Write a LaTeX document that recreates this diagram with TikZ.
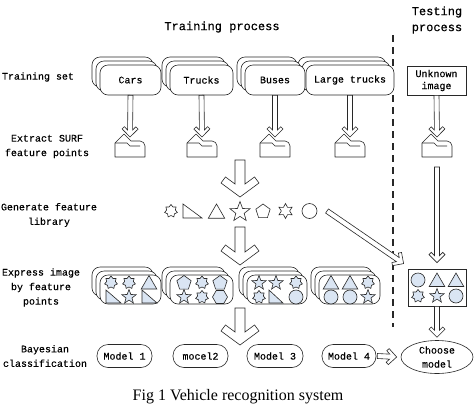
\documentclass[tikz,border=0pt]{standalone}
\usepackage{fontspec}
\setmainfont{Liberation Serif}
\newfontfamily\simfont[FakeBold=0.3]{Liberation Mono}
\usetikzlibrary{shapes.geometric,shadows,calc}
\definecolor{lb}{RGB}{218,229,243}
\definecolor{ln}{RGB}{40,40,40}
\tikzset{
  lab/.style={font=\simfont\fontsize{10}{14.5}\selectfont, align=center, inner sep=0},
  ttl/.style={font=\simfont\fontsize{12}{16}\selectfont, align=center, inner sep=0},
  layers/.style={
    general shadow={shadow xshift=-8pt,shadow yshift=8pt,draw=ln,fill=white,line width=0.6pt},
    general shadow={shadow xshift=-4pt,shadow yshift=4pt,draw=ln,fill=white,line width=0.6pt}},
  tbox/.style={layers, draw=ln, fill=white, rounded corners=8pt, minimum height=30pt, inner sep=0,
    font=\simfont\fontsize{10}{12}\selectfont},
  ebox/.style={layers, draw=ln, fill=white, rounded corners=8pt, minimum height=29pt, inner sep=0},
  rbox/.style={draw=ln, fill=white, minimum width=59pt, minimum height=29pt, inner sep=0, line width=0.8pt,
    align=center, font=\simfont\fontsize{10}{12}\selectfont},
  mbox/.style={draw=ln, fill=white, rounded corners=11pt, minimum height=23pt, inner sep=0,
    font=\simfont\fontsize{10}{12}\selectfont},
  cmodel/.style={ellipse, draw=ln, fill=white, minimum width=72pt, minimum height=33pt, inner sep=0,
    align=center, font=\simfont\fontsize{10}{14}\selectfont},
  shp/.style={draw=ln, inner sep=0, outer sep=0, line width=0.6pt},
  gear/.style={shp, star, star points=7, star point ratio=1.45, minimum size=13pt},
  fstar/.style={shp, star, star points=5, star point ratio=2.4, minimum size=15pt},
  six/.style={shp, star, star points=6, star point ratio=1.8, minimum size=15pt},
  pent/.style={shp, regular polygon, regular polygon sides=5, minimum size=15pt},
  hexa/.style={shp, regular polygon, regular polygon sides=6, minimum size=15pt},
  tri/.style={shp, regular polygon, regular polygon sides=3, minimum size=18pt},
  circ/.style={shp, circle, minimum size=14pt},
  ef/.style={fill=lb},
  hollowarrow/.style n args={6}{draw=ln, fill=white, line width=0.6pt, line join=miter,
    to path={
      ($(\tikztostart)!#1!90:(\tikztotarget)$) --
      ($ ($(\tikztotarget)!#6!(\tikztostart)$) !#1! -90:(\tikztostart) $) --
      ($ ($(\tikztotarget)!#4!(\tikztostart)$) !#5! -90:(\tikztostart) $) --
      ($ ($(\tikztotarget)!#2!(\tikztostart)$) !#3! -90:(\tikztostart) $) --
      (\tikztotarget) --
      ($ ($(\tikztotarget)!#2!(\tikztostart)$) !#3! 90:(\tikztostart) $) --
      ($ ($(\tikztotarget)!#4!(\tikztostart)$) !#5! 90:(\tikztostart) $) --
      ($ ($(\tikztotarget)!#6!(\tikztostart)$) !#1! 90:(\tikztostart) $) --
      ($(\tikztostart)!#1!-90:(\tikztotarget)$) -- cycle}},
  sarrow/.style={hollowarrow={2.5pt}{8pt}{8pt}{10.26pt}{5.74pt}{7.02pt}},
  barrow/.style={hollowarrow={5pt}{14pt}{19pt}{20.04pt}{14.55pt}{13pt}},
  pics/surf/.style={code={
    \draw[draw=ln, fill=white, line width=0.6pt, line join=round]
      (-15,12) -- (-15,-2) -- (-6,-11) -- (1,-4) -- (10,-4) to[out=0,in=90] (15,1) -- (15,12) -- cycle;
    \draw[draw=ln, line width=0.6pt] (-15,-2) -- (-3,-2) -- (0,1) -- (10,1);
    \coordinate (-top) at (0,-8);
    \coordinate (-bot) at (0,12);
  }}
}
\begin{document}
\begin{tikzpicture}[x=1pt,y=-1pt,line width=0.6pt]
\useasboundingbox (0,0) rectangle (474,405);
\clip (0,0) rectangle (474,405);
\fill[white] (0,0) rectangle (474,405);

% titles
\node[ttl] (ttrain) at (222,27) {Training process};
\node[ttl] (ttest) at (437,20) {Testing\\process};

% row labels
\node[lab] (l1) at (38,77) {Training set};
\node[lab] (l2) at (47,146.5) {Extract SURF\\feature points};
\node[lab] (l3) at (49,215) {Generate feature\\library};
\node[lab] (l4) at (41,287.5) {Express image\\by feature\\points};
\node[lab] (l5) at (45,356) {Bayesian\\classification};

% separator
\coordinate (sepa) at (393,35);
\coordinate (sepb) at (393,327);
\draw[ln, line width=1.3pt, dash pattern=on 7pt off 5pt] (sepa) -- (sepb);

% training set
\node[tbox, minimum width=61pt] (cars) at (130.5,80) {Cars};
\node[tbox, minimum width=63pt] (trucks) at (201.5,80) {Trucks};
\node[tbox, minimum width=88pt] (ltrucks) at (350,80) {Large trucks};
\node[tbox, minimum width=60pt] (buses) at (275,80) {Buses};
\node[rbox] (unk) at (436.5,80.5) {Unknown\\image};

% SURF feature point icons
\pic (s1) at (130,145) {surf};
\pic (s2) at (202,145) {surf};
\pic (s3) at (275,145) {surf};
\pic (s4) at (350,145) {surf};
\pic (s5) at (437,145) {surf};

\draw[sarrow] (cars.south) to (s1-top);
\draw[sarrow] (trucks.south) to (s2-top);
\draw[sarrow] (buses.south) to (s3-top);
\draw[sarrow] (ltrucks.south) to (s4-top);
\draw[sarrow] (unk.south) to (s5-top);

% feature library
\node[gear] (f1) at (171,211) {};
\draw[shp] (183,204) -- (183,218) -- (202,218) -- cycle;
\node[tri, minimum size=19pt] (f3) at (216.5,213.5) {};
\node[fstar, minimum size=21pt] (f4) at (240,212) {};
\node[pent] (f5) at (263,211.5) {};
\node[six] (f6) at (285.5,211) {};
\node[circ, minimum size=15pt] (f7) at (309.5,211) {};

% big arrows
\coordinate (b1s) at (240,160); \coordinate (b1t) at (240,197);
\coordinate (b2s) at (240,227); \coordinate (b2t) at (240,265);
\coordinate (b3s) at (240,308); \coordinate (b3t) at (240,345);
\draw[barrow] (b1s) to (b1t);

% expressed images
\node[ebox, minimum width=61pt] (e1) at (130.5,289.5) {};
\node[ebox, minimum width=63pt] (e2) at (201.5,289.5) {};
\node[ebox, minimum width=60pt] (e3) at (277,289.5) {};
\node[ebox, minimum width=61pt] (e4) at (349.5,289.5) {};
\draw[barrow] (b2s) to (b2t);

% box 1
\node[gear, ef] (e1a) at (111,282.5) {};
\node[gear, ef] (e1b) at (129,282.5) {};
\node[tri, ef] (e1c) at (149,284.5) {};
\draw[shp, ef] (106,290) -- (106,303) -- (121,303) -- cycle;
\node[fstar, ef] (e1e) at (129,297) {};
\draw[shp, ef] (142,290) -- (142,303) -- (157,303) -- cycle;
% box 2
\node[pent, ef] (e2a) at (184,283) {};
\node[gear, ef] (e2b) at (202,282.5) {};
\node[pent, ef] (e2c) at (220,283) {};
\node[fstar, ef] (e2d) at (184,297) {};
\node[gear, ef] (e2e) at (202,297) {};
\node[hexa, ef] (e2f) at (220,297) {};
% box 3
\node[fstar, ef] (e3a) at (259,283) {};
\node[fstar, ef] (e3b) at (276,283) {};
\node[gear, ef] (e3c) at (296,282.5) {};
\node[gear, ef] (e3d) at (259,297) {};
\draw[shp, ef] (269,290) -- (269,303) -- (283,303) -- cycle;
\node[circ, ef] (e3f) at (296,297) {};
% box 4
\node[tri, ef] (e4a) at (331,284.5) {};
\node[tri, ef] (e4b) at (350,284.5) {};
\node[gear, ef] (e4c) at (368,282.5) {};
\node[circ, ef] (e4d) at (331,297) {};
\node[circ, ef] (e4e) at (350,297) {};
\node[fstar, ef] (e4f) at (368,297) {};

% testing image
\node[draw=ln, fill=white, line width=0.8pt, minimum width=58pt, minimum height=37pt, inner sep=0] (tb) at (437,287.5) {};
\node[circ, ef] (t1) at (418,280) {};
\node[tri, ef] (t2) at (437,282) {};
\node[tri, ef] (t3) at (456,282) {};
\node[gear, ef] (t4) at (418,296) {};
\node[fstar, ef] (t5) at (437,296) {};
\node[circ, ef] (t6) at (456,296) {};

\draw[sarrow] ([yshift=-10pt]s5-bot) to ([yshift=6pt]tb.north);
\draw[sarrow] ([xshift=10pt]f7.east) to ([shift={(-4pt,5pt)}]tb.north west);

% models
\draw[barrow] (b3s) to (b3t);
\node[mbox, minimum width=55pt] (m1) at (124.5,356) {Model 1};
\node[mbox, minimum width=55pt] (m2) at (200.5,356) {mocel2};
\node[mbox, minimum width=56pt] (m3) at (275,356) {Model 3};
\node[mbox, minimum width=54pt] (m4) at (349,356) {Model 4};
\node[cmodel] (choose) at (437,357) {Choose\\model};

\draw[sarrow] (tb.south) to ([yshift=3pt]choose.north);
\draw[sarrow] ([xshift=1pt]m4.east) to ([xshift=-4pt]choose.west);

% caption
\node[font=\fontsize{16}{19}\selectfont, anchor=base, inner sep=0] (cap) at (238,400.5) {Fig 1 Vehicle recognition system};
\end{tikzpicture}
\end{document}
